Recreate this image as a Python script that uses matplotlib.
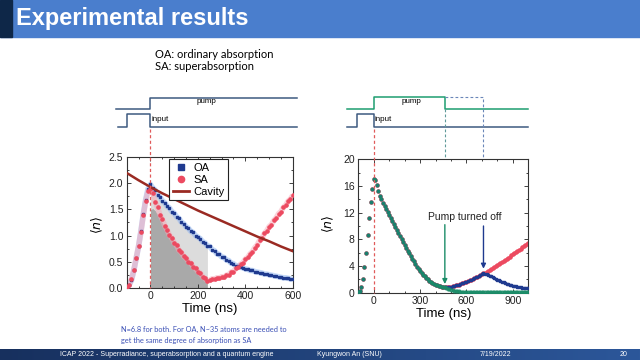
import numpy as np
import matplotlib
matplotlib.use('Agg')
import matplotlib.pyplot as plt
from matplotlib.transforms import blended_transform_factory
from matplotlib.patches import Rectangle
from matplotlib.ticker import MultipleLocator, FormatStrFormatter
from matplotlib.lines import Line2D
from matplotlib.colors import LinearSegmentedColormap

plt.rcParams['font.family'] = ['Liberation Sans', 'DejaVu Sans']
plt.rcParams['mathtext.fontset'] = 'dejavusans'

# ---------------- data ----------------
left_t = np.arange(-100, 601, 10)
oa_vals = [0.02, 0.05, 0.14, 0.33, 0.56, 0.79, 1.09, 1.41, 1.69, 1.90,
           1.98, 1.91, 1.87, 1.78, 1.74, 1.67, 1.63, 1.56, 1.53, 1.46,
           1.43, 1.36, 1.33, 1.26, 1.23, 1.17, 1.14, 1.08, 1.06, 1.00,
           0.97, 0.94, 0.88, 0.86, 0.80, 0.79, 0.73, 0.71, 0.65, 0.64,
           0.59, 0.58, 0.53, 0.52, 0.47, 0.46, 0.42, 0.42, 0.39, 0.38,
           0.36, 0.35, 0.33, 0.33, 0.31, 0.30, 0.29, 0.28, 0.26, 0.26,
           0.25, 0.24, 0.23, 0.22, 0.21, 0.20, 0.19, 0.19, 0.18, 0.17, 0.16]
sa_vals = [0.02, 0.06, 0.16, 0.34, 0.57, 0.80, 1.07, 1.39, 1.66, 1.85,
           1.90, 1.81, 1.65, 1.54, 1.40, 1.31, 1.19, 1.11, 1.01, 0.95,
           0.86, 0.81, 0.72, 0.68, 0.60, 0.57, 0.50, 0.47, 0.40, 0.37,
           0.31, 0.28, 0.21, 0.18, 0.13, 0.14, 0.17, 0.16, 0.19, 0.18,
           0.21, 0.20, 0.24, 0.25, 0.30, 0.31, 0.37, 0.39, 0.45, 0.48,
           0.55, 0.58, 0.65, 0.69, 0.77, 0.82, 0.91, 0.95, 1.04, 1.09,
           1.17, 1.21, 1.29, 1.34, 1.42, 1.46, 1.54, 1.58, 1.66, 1.70, 1.77]
cavity_t = np.arange(-100, 601, 50)
cavity_vals = [2.20, 2.06, 1.93, 1.81, 1.70, 1.59, 1.48, 1.38, 1.28, 1.18,
               1.08, 0.98, 0.89, 0.79, 0.70]
shade_t = np.arange(0, 241, 10)
shade_vals = [1.50, 1.52, 1.48, 1.41, 1.33, 1.25, 1.16, 1.08, 1.00, 0.93,
              0.86, 0.79, 0.72, 0.66, 0.60, 0.55, 0.50, 0.45, 0.40, 0.35,
              0.31, 0.26, 0.21, 0.17, 0.13]

right_common_t = np.arange(-100, 461, 10)
right_common = [0.1, 0.3, 0.9, 2.0, 3.8, 6.0, 8.6, 11.2, 13.6, 15.6,
                17.0, 16.9, 16.2, 15.2, 14.5, 14.0, 13.5, 13.0, 12.5, 12.1,
                11.6, 11.2, 10.8, 10.3, 9.9, 9.4, 9.0, 8.5, 8.0, 7.6,
                7.1, 6.7, 6.3, 5.9, 5.5, 5.1, 4.7, 4.3, 3.9, 3.6,
                3.3, 3.0, 2.7, 2.45, 2.2, 2.0, 1.8, 1.6, 1.45, 1.3,
                1.2, 1.1, 1.0, 0.95, 0.9, 0.85, 0.8]
tail_t = np.arange(470, 1001, 10)
red_tail = [0.82, 0.85, 0.88,
            0.92, 0.97, 1.02, 1.08, 1.15, 1.22, 1.30, 1.38, 1.47, 1.56,
            1.65, 1.74, 1.84, 1.94, 2.05, 2.16, 2.28, 2.40, 2.52, 2.64,
            2.76, 2.88, 3.00, 3.13, 3.26, 3.40, 3.54, 3.68, 3.83, 3.98,
            4.13, 4.28, 4.44, 4.60, 4.76, 4.92, 5.08, 5.25, 5.42, 5.59,
            5.76, 5.93, 6.10, 6.27, 6.44, 6.61, 6.78, 6.95, 7.12, 7.29,
            7.45]
blue_decay = [2.85, 2.78, 2.68, 2.56, 2.44, 2.32, 2.20, 2.08, 1.96, 1.85,
              1.74, 1.64, 1.54, 1.45, 1.37, 1.29, 1.21, 1.14, 1.07, 1.01,
              0.95, 0.90, 0.85, 0.80, 0.76, 0.72, 0.69, 0.66, 0.63]
green_tail = [0.70, 0.60, 0.50,
              0.42, 0.36, 0.30, 0.26, 0.22, 0.19, 0.17, 0.15, 0.13, 0.12,
              0.11, 0.10, 0.10, 0.09, 0.09, 0.08, 0.08, 0.08, 0.07, 0.07,
              0.07, 0.07, 0.06, 0.06, 0.06, 0.06, 0.06, 0.06, 0.05, 0.05,
              0.05, 0.05, 0.05, 0.05, 0.05, 0.05, 0.05, 0.05, 0.05, 0.05,
              0.05, 0.05, 0.05, 0.05, 0.05, 0.05, 0.05, 0.05, 0.05, 0.05,
              0.05]
pump_off_green = 460
pump_off_blue = 710

# timing diagrams (time units)
left_pump_t = [-145, 0, 0, 617]
left_input_t = [-138, -100, -100, 0, 0, 617]
right_pump_t = [-175, 0, 0, pump_off_green, pump_off_green, 998]
right_input_t = [-175, -110, -110, 0, 0, 998]

# ---------------- figure ----------------
W, H = 640, 360
fig = plt.figure(figsize=(6.4, 3.6), dpi=100)
def fx(p): return p / W
def fy(p): return 1 - p / H

# header
fig.add_artist(Rectangle((0, fy(37)), 1, 37 / H, transform=fig.transFigure,
                         color='#4a7ecd', zorder=0))
fig.add_artist(Rectangle((0, fy(37)), 12 / W, 37 / H, transform=fig.transFigure,
                         color='#0e2748', zorder=0))
fig.text(fx(16), fy(19), 'Experimental results', color='white', fontsize=17,
         fontweight='bold', ha='left', va='center')

# footer
axF = fig.add_axes([0, 0, 1, 11 / H])
grad = np.linspace(0, 1, 256).reshape(1, -1)
axF.imshow(grad, aspect='auto', extent=(0, 1, 0, 1),
           cmap=LinearSegmentedColormap.from_list('f', ['#17305e', '#2c579a']))
axF.set_axis_off()
for xp, s in [(60, 'ICAP 2022 - Superradiance, superabsorption and a quantum engine'),
              (317, 'Kyungwon An (SNU)'), (480, '7/19/2022'), (620, '20')]:
    fig.text(fx(xp), fy(355), s, color='white', fontsize=5, ha='left', va='center')

# slide text
fig.text(fx(155), fy(54), 'OA: ordinary absorption', fontsize=8, family=['Lato', 'DejaVu Sans'],
         ha='left', va='center')
fig.text(fx(155), fy(67), 'SA: superabsorption', fontsize=8, family=['Lato', 'DejaVu Sans'],
         ha='left', va='center')
fig.text(fx(121), fy(329), 'N=6.8 for both. For OA, N~35 atoms are needed to', fontsize=5.3,
         family=['Lato', 'DejaVu Sans'], color='#3a4fb5', ha='left', va='center')
fig.text(fx(121), fy(341), 'get the same degree of absorption as SA', fontsize=5.3,
         family=['Lato', 'DejaVu Sans'], color='#3a4fb5', ha='left', va='center')

navy = '#1f3a8f'
red = '#ec4a60'
green = '#1b8c68'
cav = '#9a2a22'
line_c = '#3d5a80'
dash_red = '#e05a5a'

def style(ax, fs):
    for s in ax.spines.values():
        s.set_linewidth(0.8)
        s.set_color('#333333')
    ax.tick_params(which='both', direction='in', top=True, right=True,
                   labelsize=fs, width=0.6, pad=2.5, colors='#222222')
    ax.tick_params(which='major', length=3)
    ax.tick_params(which='minor', length=1.6)

# ---------- left axes ----------
axL = fig.add_axes([fx(126.7), fy(287.7), (293.3 - 126.7) / W, (287.7 - 157.3) / H])
trL = blended_transform_factory(axL.transData, fig.transFigure)
oa_arr = np.array(oa_vals)
mask = (left_t >= 0) & (left_t <= 240)
axL.fill_between(shade_t, shade_vals, oa_arr[mask], color='#dcdcdc', lw=0, zorder=1)
axL.fill_between(shade_t, 0, shade_vals, color='#a9a9a9', lw=0, zorder=1)
axL.plot(left_t, oa_vals, color='#8fb6f2', lw=4, alpha=0.5, zorder=2, solid_capstyle='butt')
axL.plot(left_t, sa_vals, color='#f7a6b5', lw=4, alpha=0.5, zorder=2, solid_capstyle='butt')
axL.plot(left_t, oa_vals, ls='none', marker='s', ms=2.1, color=navy, zorder=3)
axL.plot(left_t, sa_vals, ls='none', marker='o', ms=2.3, color=red, zorder=3)
axL.plot(cavity_t, cavity_vals, color=cav, lw=1.8, zorder=4)
axL.set_xlim(-100, 602)
axL.set_ylim(0, 2.5)
axL.xaxis.set_major_locator(MultipleLocator(200))
axL.xaxis.set_minor_locator(MultipleLocator(50))
axL.yaxis.set_major_locator(MultipleLocator(0.5))
axL.yaxis.set_minor_locator(MultipleLocator(0.25))
axL.yaxis.set_major_formatter(FormatStrFormatter('%.1f'))
style(axL, 7.5)
axL.set_xlabel('Time (ns)', fontsize=9.5, labelpad=1)
axL.set_ylabel(r'$\langle n\rangle$', fontsize=9)
axL.yaxis.set_label_coords(-0.13, 0.48)
handles = [Line2D([], [], ls='none', marker='s', ms=4, color=navy),
           Line2D([], [], ls='none', marker='o', ms=4.5, color=red),
           Line2D([], [], color=cav, lw=2)]
leg = axL.legend(handles, ['OA', 'SA', 'Cavity'], loc='upper left', bbox_to_anchor=(0.255, 0.985),
                 fontsize=8, frameon=True, fancybox=False, edgecolor='#222222', framealpha=1,
                 handlelength=1.5, borderpad=0.3, labelspacing=0.2, handletextpad=0.4,
                 borderaxespad=0)
leg.get_frame().set_linewidth(0.8)
leg.set_zorder(6)
# timing diagram left
axL.plot(left_pump_t, [fy(109), fy(109), fy(98.3), fy(98.3)], transform=trL, clip_on=False,
         color=line_c, lw=1.1)
axL.plot(left_input_t, [fy(126.7), fy(126.7), fy(114.3), fy(114.3), fy(126.7), fy(126.7)],
         transform=trL, clip_on=False, color=line_c, lw=1.1)
axL.text(238, fy(101.5), 'pump', transform=trL, fontsize=5.8, ha='center', va='center')
axL.text(5, fy(119.5), 'input', transform=trL, fontsize=5.8, ha='left', va='center')
axL.plot([0, 0], [fy(129), fy(287.7)], transform=trL, clip_on=False, color=dash_red,
         lw=0.9, ls=(0, (2.5, 2)), zorder=5)

# ---------- right axes ----------
axR = fig.add_axes([fx(358.3), fy(292.7), (528.3 - 358.3) / W, (292.7 - 159.3) / H])
trR = blended_transform_factory(axR.transData, fig.transFigure)
t_full = np.concatenate([right_common_t, tail_t])
red_full = np.concatenate([right_common, red_tail])
blue_full = np.concatenate([right_common, np.array(red_tail)[tail_t <= pump_off_blue], blue_decay])
green_full = np.concatenate([right_common, green_tail])
axR.plot(t_full, red_full, ls='none', marker='o', ms=2.2, color=red, zorder=2)
axR.plot(t_full, blue_full, ls='none', marker='s', ms=2.0, color=navy, zorder=3)
axR.plot(t_full, green_full, ls='none', marker='o', ms=2.0, color=green, alpha=0.75, zorder=4)
axR.set_xlim(-100, 1000)
axR.set_ylim(0, 20)
axR.xaxis.set_major_locator(MultipleLocator(300))
axR.xaxis.set_minor_locator(MultipleLocator(100))
axR.yaxis.set_major_locator(MultipleLocator(4))
axR.yaxis.set_minor_locator(MultipleLocator(2))
style(axR, 7.5)
axR.set_xlabel('Time (ns)', fontsize=9.5, labelpad=1)
axR.set_ylabel(r'$\langle n\rangle$', fontsize=9)
axR.yaxis.set_label_coords(-0.13, 0.52)
axR.annotate('', xy=(pump_off_green, 1.3), xytext=(pump_off_green, 10.2),
             arrowprops=dict(arrowstyle='-|>', color=green, lw=1.0, mutation_scale=7,
                             shrinkA=0, shrinkB=0), zorder=6)
axR.annotate('', xy=(pump_off_blue, 3.6), xytext=(pump_off_blue, 10.0),
             arrowprops=dict(arrowstyle='-|>', color=navy, lw=1.0, mutation_scale=7,
                             shrinkA=0, shrinkB=0), zorder=6)
axR.text(590, 11.3, 'Pump turned off', fontsize=7.5, ha='center', va='center', color='#222222')
# timing diagram right
axR.plot(right_pump_t, [fy(109), fy(109), fy(97.3), fy(97.3), fy(109), fy(109)], transform=trR,
         clip_on=False, color='#1e9e70', lw=1.1)
axR.plot(right_input_t, [fy(126.7), fy(126.7), fy(114.3), fy(114.3), fy(126.7), fy(126.7)],
         transform=trR, clip_on=False, color=line_c, lw=1.1)
axR.plot([pump_off_green, pump_off_blue, pump_off_blue], [fy(97.3), fy(97.3), fy(159.3)],
         transform=trR, clip_on=False, color='#6a86b8', lw=0.8, ls=(0, (2.5, 2)))
axR.plot([pump_off_green, pump_off_green], [fy(109), fy(159.3)], transform=trR, clip_on=False,
         color='#5f9a9a', lw=0.8, ls=(0, (2.5, 2)))
axR.text(245, fy(101.5), 'pump', transform=trR, fontsize=5.8, ha='center', va='center')
axR.text(8, fy(119.5), 'input', transform=trR, fontsize=5.8, ha='left', va='center')
axR.plot([0, 0], [fy(129), fy(292.7)], transform=trR, clip_on=False, color=dash_red,
         lw=0.9, ls=(0, (2.5, 2)), zorder=5)

fig.savefig('out.png', dpi=100)
